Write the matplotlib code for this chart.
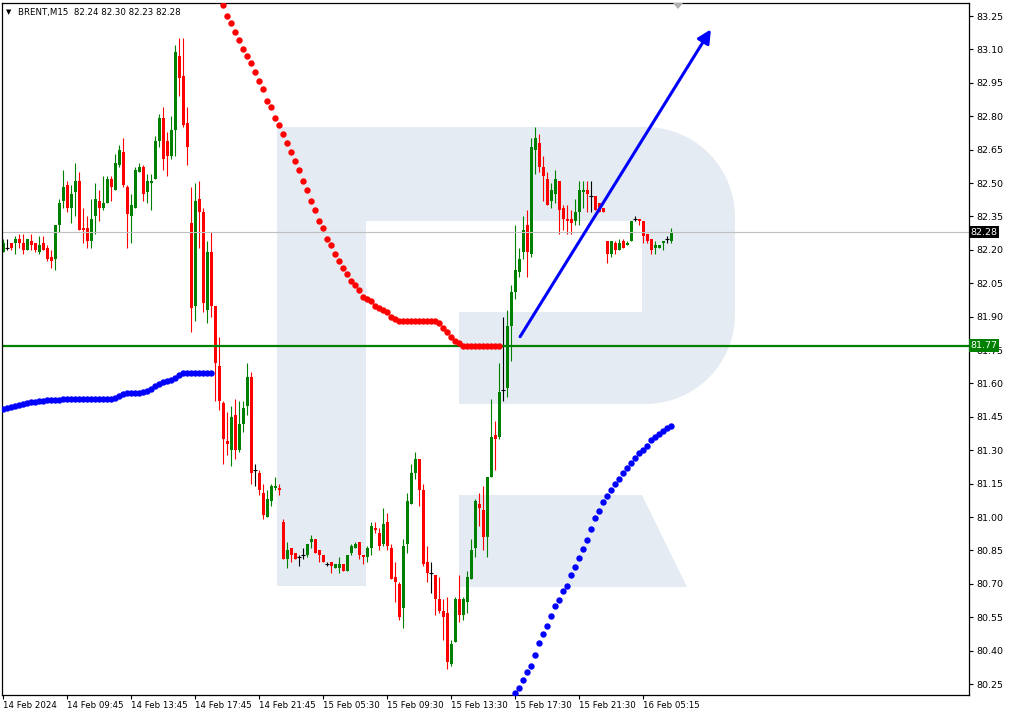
import matplotlib
matplotlib.use("Agg")
import matplotlib.pyplot as plt
import matplotlib.transforms as mtransforms
from matplotlib.path import Path
from matplotlib.patches import PathPatch, FancyArrowPatch
import numpy as np

# ---------------- data ----------------
opens = [82.19, 82.21, 82.23, 82.23, 82.25, 82.23, 82.20, 82.24, 82.23, 82.19,
         82.23, 82.21, 82.17, 82.16, 82.31, 82.42, 82.49, 82.39, 82.46, 82.51,
         82.30, 82.30, 82.24, 82.35, 82.42, 82.39, 82.41, 82.52, 82.47, 82.58,
         82.64, 82.48, 82.35, 82.39, 82.55, 82.57, 82.46, 82.50, 82.52, 82.69,
         82.79, 82.69, 82.62, 82.74, 83.07, 82.98, 82.77, 82.32, 81.95, 82.43,
         82.37, 81.93, 82.19, 81.95, 81.68, 81.51, 81.34, 81.30, 81.46, 81.30,
         81.42, 81.50, 81.63, 81.21, 81.20, 81.11, 81.00, 81.07, 81.13, 81.13,
         80.98, 80.81, 80.86, 80.84, 80.82, 80.83, 80.83, 80.89, 80.90, 80.85,
         80.83, 80.79, 80.80, 80.77, 80.77, 80.79, 80.76, 80.84, 80.86, 80.89,
         80.83, 80.82, 80.86, 80.95, 80.93, 80.88, 80.98, 80.86, 80.73, 80.70,
         80.59, 80.88, 81.06, 81.20, 81.26, 81.12, 80.80, 80.75, 80.74, 80.63,
         80.58, 80.57, 80.34, 80.44, 80.63, 80.56, 80.62, 80.72, 80.86, 81.06,
         81.03, 80.91, 81.18, 81.37, 81.36, 81.57, 81.58, 81.86, 82.01, 82.10,
         82.19, 82.31, 82.18, 82.65, 82.68, 82.57, 82.52, 82.42, 82.45, 82.51,
         82.39, 82.34, 82.34, 82.33, 82.37, 82.46, 82.47, 82.44, 82.44, 82.41,
         82.39, 82.24, 82.18, 82.23, 82.20, 82.24, 82.22, 82.24, 82.34, 82.34,
         82.33, 82.27, 82.25, 82.21, 82.21, 82.23, 82.25, 82.24]
highs = [82.25, 82.25, 82.23, 82.26, 82.27, 82.27, 82.25, 82.27, 82.23, 82.26,
         82.26, 82.22, 82.20, 82.31, 82.43, 82.56, 82.51, 82.49, 82.59, 82.55,
         82.39, 82.35, 82.43, 82.50, 82.47, 82.53, 82.53, 82.53, 82.63, 82.67,
         82.70, 82.49, 82.45, 82.57, 82.59, 82.58, 82.54, 82.54, 82.71, 82.81,
         82.84, 82.73, 82.80, 83.12, 83.15, 83.15, 82.84, 82.48, 82.50, 82.51,
         82.39, 82.24, 82.28, 81.95, 81.81, 81.52, 81.47, 81.50, 81.53, 81.52,
         81.52, 81.69, 81.65, 81.24, 81.21, 81.15, 81.12, 81.15, 81.18, 81.15,
         80.99, 80.89, 80.86, 80.84, 80.83, 80.86, 80.88, 80.92, 80.90, 80.85,
         80.83, 80.80, 80.80, 80.79, 80.82, 80.79, 80.83, 80.88, 80.89, 80.89,
         80.83, 80.87, 80.98, 80.98, 80.95, 81.04, 81.02, 80.88, 80.80, 80.71,
         80.90, 81.11, 81.24, 81.29, 81.26, 81.15, 80.87, 80.80, 80.74, 80.73,
         80.63, 80.64, 80.45, 80.64, 80.74, 80.64, 80.76, 80.90, 81.08, 81.11,
         81.14, 81.18, 81.53, 81.43, 81.69, 81.90, 81.93, 82.04, 82.31, 82.21,
         82.35, 82.38, 82.70, 82.75, 82.72, 82.62, 82.55, 82.50, 82.56, 82.51,
         82.40, 82.40, 82.38, 82.43, 82.51, 82.51, 82.51, 82.51, 82.44, 82.41,
         82.39, 82.24, 82.24, 82.24, 82.25, 82.25, 82.24, 82.33, 82.35, 82.34,
         82.33, 82.27, 82.25, 82.24, 82.22, 82.24, 82.26, 82.30]
lows = [82.19, 82.20, 82.20, 82.18, 82.21, 82.18, 82.20, 82.20, 82.19, 82.18,
        82.20, 82.15, 82.12, 82.11, 82.28, 82.39, 82.37, 82.32, 82.35, 82.29,
        82.23, 82.21, 82.21, 82.27, 82.33, 82.38, 82.41, 82.42, 82.47, 82.57,
        82.48, 82.21, 82.23, 82.39, 82.55, 82.42, 82.41, 82.38, 82.52, 82.66,
        82.56, 82.53, 82.61, 82.62, 82.89, 82.75, 82.58, 81.83, 81.88, 82.21,
        81.92, 81.87, 81.90, 81.52, 81.48, 81.24, 81.28, 81.23, 81.26, 81.29,
        81.38, 81.46, 81.15, 81.14, 81.10, 80.99, 81.00, 81.05, 81.12, 81.10,
        80.81, 80.77, 80.80, 80.81, 80.78, 80.81, 80.82, 80.86, 80.84, 80.80,
        80.80, 80.78, 80.75, 80.77, 80.75, 80.76, 80.76, 80.83, 80.86, 80.81,
        80.79, 80.80, 80.83, 80.93, 80.85, 80.87, 80.85, 80.72, 80.62, 80.54,
        80.50, 80.84, 81.06, 81.17, 81.05, 80.78, 80.71, 80.66, 80.56, 80.57,
        80.45, 80.32, 80.33, 80.44, 80.53, 80.54, 80.57, 80.72, 80.82, 80.96,
        80.85, 80.82, 81.18, 81.21, 81.35, 81.52, 81.54, 81.70, 81.98, 82.08,
        82.16, 82.08, 82.17, 82.54, 82.55, 82.42, 82.40, 82.39, 82.41, 82.27,
        82.29, 82.27, 82.27, 82.31, 82.31, 82.39, 82.37, 82.37, 82.38, 82.37,
        82.37, 82.14, 82.17, 82.18, 82.20, 82.21, 82.22, 82.24, 82.33, 82.31,
        82.23, 82.23, 82.18, 82.18, 82.21, 82.20, 82.23, 82.23]
closes = [82.23, 82.21, 82.21, 82.25, 82.23, 82.20, 82.25, 82.22, 82.20, 82.22,
          82.20, 82.16, 82.15, 82.31, 82.41, 82.48, 82.39, 82.45, 82.51, 82.29,
          82.29, 82.24, 82.34, 82.43, 82.39, 82.41, 82.52, 82.48, 82.59, 82.65,
          82.49, 82.36, 82.40, 82.56, 82.57, 82.45, 82.51, 82.51, 82.69, 82.79,
          82.61, 82.62, 82.74, 83.09, 82.97, 82.76, 82.66, 81.94, 82.42, 82.37,
          81.96, 82.19, 81.95, 81.69, 81.52, 81.35, 81.33, 81.45, 81.30, 81.42,
          81.49, 81.63, 81.20, 81.21, 81.12, 81.01, 81.08, 81.14, 81.14, 81.12,
          80.81, 80.85, 80.83, 80.81, 80.82, 80.83, 80.88, 80.90, 80.84, 80.83,
          80.80, 80.79, 80.78, 80.79, 80.79, 80.76, 80.83, 80.87, 80.88, 80.83,
          80.82, 80.86, 80.96, 80.94, 80.87, 80.97, 80.87, 80.72, 80.71, 80.55,
          80.87, 81.07, 81.20, 81.26, 81.12, 80.79, 80.75, 80.75, 80.63, 80.58,
          80.55, 80.35, 80.43, 80.63, 80.56, 80.63, 80.73, 80.85, 81.07, 81.04,
          80.91, 81.18, 81.36, 81.35, 81.56, 81.57, 81.86, 82.01, 82.11, 82.16,
          82.29, 82.19, 82.66, 82.70, 82.57, 82.53, 82.40, 82.47, 82.52, 82.38,
          82.34, 82.33, 82.32, 82.37, 82.47, 82.47, 82.45, 82.44, 82.38, 82.37,
          82.37, 82.18, 82.24, 82.20, 82.23, 82.21, 82.23, 82.33, 82.34, 82.33,
          82.26, 82.24, 82.20, 82.22, 82.22, 82.24, 82.25, 82.28]

# upper (red) and lower (blue) indicator dots
red_start = 55
red_dots = [83.30, 83.25, 83.22, 83.18, 83.14, 83.10, 83.07, 83.04, 83.00, 82.96,
            82.92, 82.87, 82.84, 82.79, 82.76, 82.72, 82.68, 82.64, 82.60, 82.56,
            82.51, 82.47, 82.42, 82.38, 82.33, 82.30, 82.25, 82.22, 82.18, 82.15,
            82.12, 82.09, 82.06, 82.04, 82.02, 81.99, 81.98, 81.97, 81.95, 81.94,
            81.93, 81.92, 81.90, 81.89,
            81.88, 81.88, 81.88, 81.88, 81.88, 81.88, 81.88, 81.88, 81.88, 81.88,
            81.87, 81.85, 81.83, 81.81, 81.79, 81.78,
            81.77, 81.77, 81.77, 81.77, 81.77, 81.77, 81.77, 81.77, 81.77, 81.77]
blue_left_start = 0
blue_left = [81.485, 81.490, 81.494, 81.499, 81.503, 81.508, 81.512, 81.517, 81.517, 81.521,
             81.521, 81.526, 81.526, 81.526, 81.526,
             81.530, 81.530, 81.530, 81.530, 81.530, 81.530, 81.530, 81.530, 81.530, 81.530,
             81.530, 81.530, 81.530,
             81.535, 81.544, 81.553, 81.557, 81.557, 81.557, 81.557,
             81.562, 81.566, 81.575, 81.589, 81.598, 81.607, 81.611, 81.616, 81.625, 81.638,
             81.647, 81.647, 81.647, 81.647, 81.647, 81.647, 81.647, 81.647]
blue_right_start = 128
blue_right = [80.210, 80.232, 80.268, 80.304, 80.331, 80.381, 80.435, 80.475, 80.511, 80.556,
              80.601, 80.628, 80.668, 80.691, 80.740, 80.776, 80.816, 80.857, 80.897, 80.946,
              80.996, 81.027, 81.068, 81.095, 81.122, 81.149, 81.171, 81.198, 81.220, 81.243,
              81.265, 81.288, 81.301, 81.319, 81.346, 81.360, 81.373, 81.387, 81.400, 81.409]

level_current = 82.28
level_green = 81.77
arrow_from = (129.2, 81.81)
arrow_to = (176.9, 83.19)

price_ticks = [80.25, 80.40, 80.55, 80.70, 80.85, 81.00, 81.15, 81.30, 81.45, 81.60,
               81.75, 81.90, 82.05, 82.20, 82.35, 82.50, 82.65, 82.80, 82.95, 83.10, 83.25]
time_tick_pos = [0, 16, 32, 48, 64, 80, 96, 112, 128, 144, 160]
time_tick_labels = ["14 Feb 2024", "14 Feb 09:45", "14 Feb 13:45", "14 Feb 17:45",
                    "14 Feb 21:45", "15 Feb 05:30", "15 Feb 09:30", "15 Feb 13:30",
                    "15 Feb 17:30", "15 Feb 21:30", "16 Feb 05:15"]
header = "BRENT,M15  82.24 82.30 82.23 82.28"

# ---------------- figure ----------------
W, H = 1009, 715
fig = plt.figure(figsize=(W / 100, H / 100), dpi=100)
ax_l, ax_r, ax_t, ax_b = 2, 969, 3, 695
ax = fig.add_axes([ax_l / W, 1 - ax_b / H, (ax_r - ax_l) / W, (ax_b - ax_t) / H])
ax.set_facecolor("white")

GREEN = "#008000"
RED = "#FF0000"
BLUE = "#0000FF"
WM = "#E5EBF3"

# watermark logo (figure pixel coords)
def fp(x, y):
    return (x / W, 1 - y / H)

verts = [fp(277, 127), fp(645, 127), fp(695, 127), fp(735, 167), fp(735, 217),
         fp(735, 314), fp(735, 364), fp(695, 404), fp(645, 404), fp(459, 404),
         fp(459, 312), fp(642, 312), fp(642, 221), fp(366, 221), fp(366, 586),
         fp(277, 586), fp(277, 127)]
codes = [Path.MOVETO, Path.LINETO, Path.CURVE4, Path.CURVE4, Path.CURVE4,
         Path.LINETO, Path.CURVE4, Path.CURVE4, Path.CURVE4, Path.LINETO,
         Path.LINETO, Path.LINETO, Path.LINETO, Path.LINETO, Path.LINETO,
         Path.LINETO, Path.CLOSEPOLY]
ax.add_patch(PathPatch(Path(verts, codes), transform=fig.transFigure,
                       facecolor=WM, edgecolor="none", zorder=0.5))
leg = [fp(459, 495), fp(642, 495), fp(687, 587), fp(459, 587), fp(459, 495)]
ax.add_patch(PathPatch(Path(leg, [Path.MOVETO, Path.LINETO, Path.LINETO, Path.LINETO,
                                  Path.CLOSEPOLY]),
                       transform=fig.transFigure, facecolor=WM, edgecolor="none",
                       zorder=0.5))

# candles
o = np.array(opens); h = np.array(highs); l = np.array(lows); c = np.array(closes)
x = np.arange(len(o))
up = c > o
dn = c < o
dj = c == o
cols = np.where(up, GREEN, np.where(dn, RED, "black"))
ax.vlines(x, l, h, colors=cols, lw=0.8, zorder=2)
nb = ~dj
ax.bar(x[nb], np.abs(c - o)[nb], bottom=np.minimum(o, c)[nb], width=0.8,
       color=cols[nb], linewidth=0, zorder=2.1)
ax.hlines(o[dj], x[dj] - 0.5, x[dj] + 0.5, colors="black", lw=0.8, zorder=2.1)

# horizontal levels
ax.axhline(level_current, color="#C0C0C0", lw=0.8, zorder=2.5)
ax.axhline(level_green, color=GREEN, lw=1.6, zorder=2.5)

# indicator dots
ax.plot(np.arange(red_start, red_start + len(red_dots)), red_dots, "o",
        color=RED, ms=4.6, mew=0, zorder=3)
ax.plot(np.arange(blue_left_start, blue_left_start + len(blue_left)), blue_left, "o",
        color=BLUE, ms=4.6, mew=0, zorder=3)
ax.plot(np.arange(blue_right_start, blue_right_start + len(blue_right)), blue_right, "o",
        color=BLUE, ms=4.6, mew=0, zorder=3)

# trend arrow
arr = FancyArrowPatch(arrow_from, arrow_to, arrowstyle="-|>,head_length=0.8,head_width=0.4",
                      mutation_scale=10, color=BLUE, lw=2.2, shrinkA=0, shrinkB=0, zorder=4)
ax.add_patch(arr)

# axes limits: pixel <-> value mapping
px_per_bar = 4.0
x0_px = 3.3
ax.set_xlim((ax_l - x0_px) / px_per_bar, (ax_r - x0_px) / px_per_bar)
ppu = 222.7
p16 = 83.25
ax.set_ylim(p16 - (ax_b - 16) / ppu, p16 + (16 - ax_t) / ppu)

# spines
for s in ax.spines.values():
    s.set_color("black")
    s.set_linewidth(0.9)

# y axis (right)
ax.yaxis.tick_right()
ax.set_yticks(price_ticks)
ax.set_yticklabels([f"{v:.2f}" for v in price_ticks])
ax.tick_params(axis="y", direction="out", length=3, width=0.8, pad=2,
               labelsize=6.8, colors="black", left=False)
# x axis
ax.set_xticks(time_tick_pos)
ax.set_xticklabels(time_tick_labels)
ax.tick_params(axis="x", direction="out", length=3, width=0.8, pad=1.5,
               labelsize=6.2, colors="black")
for lbl in ax.get_xticklabels():
    lbl.set_ha("left")

# price boxes on right axis
trans = mtransforms.blended_transform_factory(ax.transAxes, ax.transData)
ax.text(1.0015, level_current, f"{level_current:.2f}", transform=trans, ha="left",
        va="center", fontsize=6.8, color="white", zorder=6, clip_on=False,
        bbox=dict(boxstyle="square,pad=0.18", fc="black", ec="none"))
ax.text(1.0015, level_green, f"{level_green:.2f}", transform=trans, ha="left",
        va="center", fontsize=6.8, color="white", zorder=6, clip_on=False,
        bbox=dict(boxstyle="square,pad=0.18", fc=GREEN, ec="none"))

# header
fig.text(6 / W, 1 - 12 / H, "\u25BC", fontsize=5, color="black", va="center", ha="left")
fig.text(18 / W, 1 - 12 / H, header, fontsize=6.2, color="black", va="center", ha="left")

# chart-shift marker
fig.patches.append(matplotlib.patches.Polygon(
    [fp(673, 3), fp(683, 3), fp(678, 9)], closed=True, transform=fig.transFigure,
    facecolor="#B0B0B0", edgecolor="none", figure=fig))

fig.savefig("out.png", dpi=100)
